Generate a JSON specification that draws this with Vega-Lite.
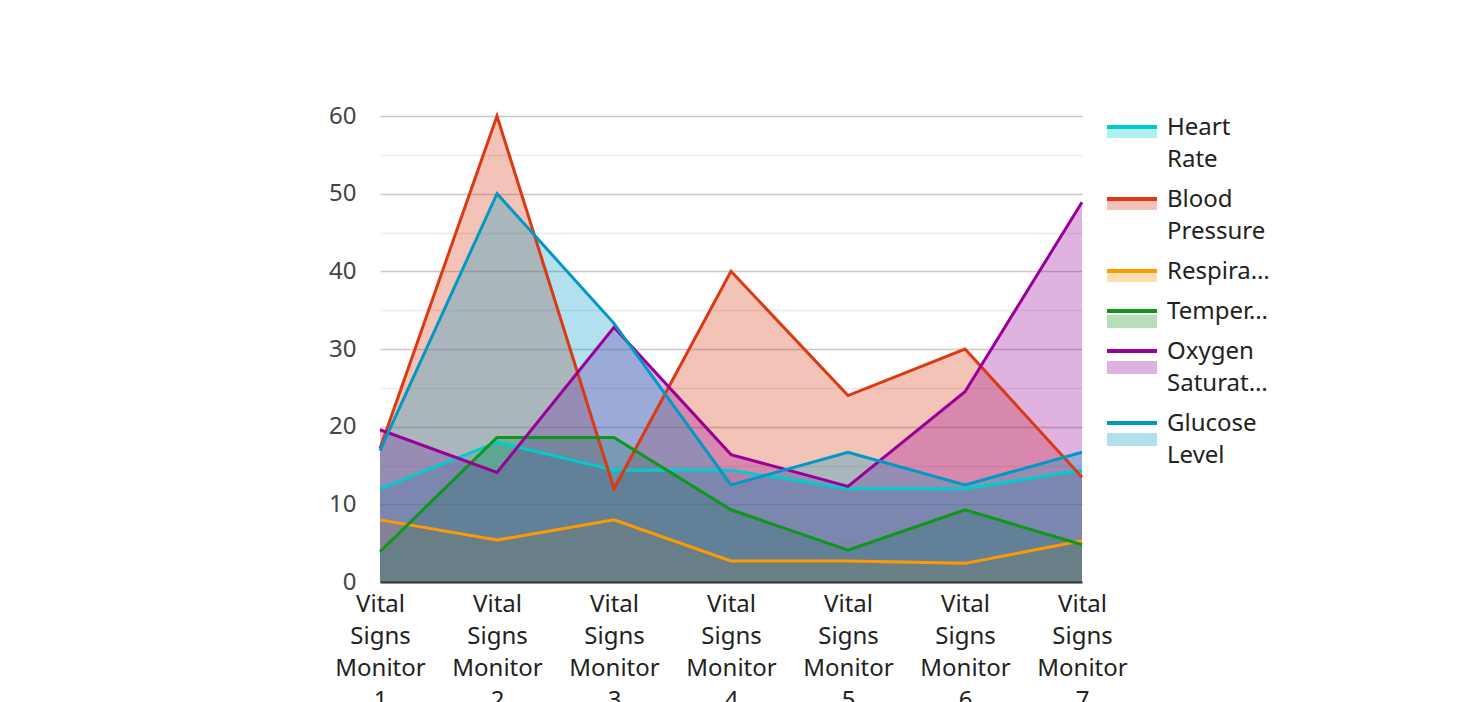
{
  "$schema": "https://vega.github.io/schema/vega-lite/v6.json",
  "width": 702,
  "height": 466,
  "autosize": "none",
  "padding": {"left": 380, "top": 116, "right": 376, "bottom": 120},
  "background": "white",
  "config": {
    "font": "Noto Sans",
    "view": {"stroke": null},
    "style": {"guide-label": {"lineHeight": 32}}
  },
  "data": {
    "values": [
      {"monitor": "Vital Signs Monitor 1", "series": "Heart Rate", "value": 12},
      {"monitor": "Vital Signs Monitor 2", "series": "Heart Rate", "value": 18},
      {"monitor": "Vital Signs Monitor 3", "series": "Heart Rate", "value": 14.4},
      {"monitor": "Vital Signs Monitor 4", "series": "Heart Rate", "value": 14.4},
      {"monitor": "Vital Signs Monitor 5", "series": "Heart Rate", "value": 12},
      {"monitor": "Vital Signs Monitor 6", "series": "Heart Rate", "value": 12},
      {"monitor": "Vital Signs Monitor 7", "series": "Heart Rate", "value": 14.4},
      {"monitor": "Vital Signs Monitor 1", "series": "Blood Pressure", "value": 17.2},
      {"monitor": "Vital Signs Monitor 2", "series": "Blood Pressure", "value": 60},
      {"monitor": "Vital Signs Monitor 3", "series": "Blood Pressure", "value": 12},
      {"monitor": "Vital Signs Monitor 4", "series": "Blood Pressure", "value": 40},
      {"monitor": "Vital Signs Monitor 5", "series": "Blood Pressure", "value": 24},
      {"monitor": "Vital Signs Monitor 6", "series": "Blood Pressure", "value": 30},
      {"monitor": "Vital Signs Monitor 7", "series": "Blood Pressure", "value": 13.5},
      {"monitor": "Vital Signs Monitor 1", "series": "Respiration", "value": 8},
      {"monitor": "Vital Signs Monitor 2", "series": "Respiration", "value": 5.4},
      {"monitor": "Vital Signs Monitor 3", "series": "Respiration", "value": 8},
      {"monitor": "Vital Signs Monitor 4", "series": "Respiration", "value": 2.7},
      {"monitor": "Vital Signs Monitor 5", "series": "Respiration", "value": 2.7},
      {"monitor": "Vital Signs Monitor 6", "series": "Respiration", "value": 2.4},
      {"monitor": "Vital Signs Monitor 7", "series": "Respiration", "value": 5.3},
      {"monitor": "Vital Signs Monitor 1", "series": "Temperature", "value": 3.9},
      {"monitor": "Vital Signs Monitor 2", "series": "Temperature", "value": 18.6},
      {"monitor": "Vital Signs Monitor 3", "series": "Temperature", "value": 18.6},
      {"monitor": "Vital Signs Monitor 4", "series": "Temperature", "value": 9.3},
      {"monitor": "Vital Signs Monitor 5", "series": "Temperature", "value": 4.1},
      {"monitor": "Vital Signs Monitor 6", "series": "Temperature", "value": 9.3},
      {"monitor": "Vital Signs Monitor 7", "series": "Temperature", "value": 4.8},
      {"monitor": "Vital Signs Monitor 1", "series": "Oxygen Saturation", "value": 19.6},
      {"monitor": "Vital Signs Monitor 2", "series": "Oxygen Saturation", "value": 14.1},
      {"monitor": "Vital Signs Monitor 3", "series": "Oxygen Saturation", "value": 32.8},
      {"monitor": "Vital Signs Monitor 4", "series": "Oxygen Saturation", "value": 16.4},
      {"monitor": "Vital Signs Monitor 5", "series": "Oxygen Saturation", "value": 12.3},
      {"monitor": "Vital Signs Monitor 6", "series": "Oxygen Saturation", "value": 24.5},
      {"monitor": "Vital Signs Monitor 7", "series": "Oxygen Saturation", "value": 48.9},
      {"monitor": "Vital Signs Monitor 1", "series": "Glucose Level", "value": 16.9},
      {"monitor": "Vital Signs Monitor 2", "series": "Glucose Level", "value": 50},
      {"monitor": "Vital Signs Monitor 3", "series": "Glucose Level", "value": 33.3},
      {"monitor": "Vital Signs Monitor 4", "series": "Glucose Level", "value": 12.5},
      {"monitor": "Vital Signs Monitor 5", "series": "Glucose Level", "value": 16.7},
      {"monitor": "Vital Signs Monitor 6", "series": "Glucose Level", "value": 12.5},
      {"monitor": "Vital Signs Monitor 7", "series": "Glucose Level", "value": 16.7}
    ]
  },
  "encoding": {
    "x": {
      "field": "monitor",
      "type": "ordinal",
      "scale": {"type": "point", "padding": 0},
      "axis": {
        "title": null,
        "labelAngle": 0,
        "labelExpr": "split(datum.label, ' ')",
        "labelLineHeight": 32,
        "labelBaseline": "top",
        "labelFontSize": 24,
        "labelColor": "#222222",
        "labelPadding": 10,
        "labelOverlap": false,
        "ticks": false,
        "grid": false,
        "domainColor": "#333333",
        "domainWidth": 2,
        "zindex": 1
      }
    },
    "y": {
      "field": "value",
      "type": "quantitative",
      "stack": null,
      "scale": {"domain": [0, 60], "nice": false},
      "axis": {
        "title": null,
        "values": [0, 5, 10, 15, 20, 25, 30, 35, 40, 45, 50, 55, 60],
        "labelExpr": "datum.value % 10 === 0 ? datum.label : ''",
        "labelFontSize": 24,
        "labelColor": "#444444",
        "labelPadding": 24,
        "ticks": false,
        "domain": false,
        "grid": true,
        "gridColor": {"condition": {"test": "datum.value % 10 === 0", "value": "#c8c8c8"}, "value": "#ebebeb"},
        "gridWidth": 1.3
      }
    }
  },
  "layer": [
    {
      "mark": {"type": "area", "fillOpacity": 0.3, "interpolate": "linear"},
      "encoding": {
        "fill": {
          "field": "series",
          "type": "nominal",
          "scale": {
            "domain": ["Heart Rate", "Blood Pressure", "Respiration", "Temperature", "Oxygen Saturation", "Glucose Level"],
            "range": ["#00cccc", "#dc3912", "#ff9900", "#109618", "#990099", "#0099c6"]
          },
          "legend": {
            "title": null,
            "orient": "none",
            "legendX": 740,
            "legendY": 0,
            "padding": 0,
            "symbolType": "M-2.5,-0.3L2.5,-0.3L2.5,1.0L-2.5,1.0Z",
            "symbolSize": 400,
            "symbolOpacity": 0.3,
            "symbolStrokeWidth": 4,
            "symbolStrokeColor": "transparent",
            "labelFontSize": 24,
            "labelColor": "transparent",
            "labelOffset": 23,
            "labelLimit": 200,
            "rowPadding": 16,
            "zindex": 1,
            "labelExpr": "datum.label === 'Heart Rate' ? ['Heart','Rate'] : datum.label === 'Blood Pressure' ? ['Blood','Pressure'] : datum.label === 'Respiration' ? 'Respira…' : datum.label === 'Temperature' ? 'Temper…' : datum.label === 'Oxygen Saturation' ? ['Oxygen','Saturat…'] : ['Glucose','Level']"
          }
        }
      }
    },
    {
      "mark": {"type": "line", "strokeWidth": 3, "interpolate": "linear"},
      "encoding": {
        "stroke": {
          "field": "series",
          "type": "nominal",
          "sort": ["Heart Rate", "Blood Pressure", "Respiration", "Temperature", "Oxygen Saturation", "Glucose Level"],
          "scale": {
            "range": ["#00cccc", "#dc3912", "#ff9900", "#109618", "#990099", "#0099c6"]
          },
          "legend": {
            "title": null,
            "orient": "none",
            "legendX": 740,
            "legendY": 0,
            "padding": 0,
            "symbolType": "M-2.5,-0.1L2.5,-0.1",
            "symbolSize": 400,
            "symbolStrokeWidth": 4,
            "symbolFillColor": "transparent",
            "labelFontSize": 24,
            "labelColor": "#222222",
            "labelOffset": 23,
            "labelLimit": 200,
            "rowPadding": 16,
            "zindex": 2,
            "labelExpr": "datum.label === 'Heart Rate' ? ['Heart','Rate'] : datum.label === 'Blood Pressure' ? ['Blood','Pressure'] : datum.label === 'Respiration' ? 'Respira…' : datum.label === 'Temperature' ? 'Temper…' : datum.label === 'Oxygen Saturation' ? ['Oxygen','Saturat…'] : ['Glucose','Level']"
          }
        }
      }
    }
  ]
}
